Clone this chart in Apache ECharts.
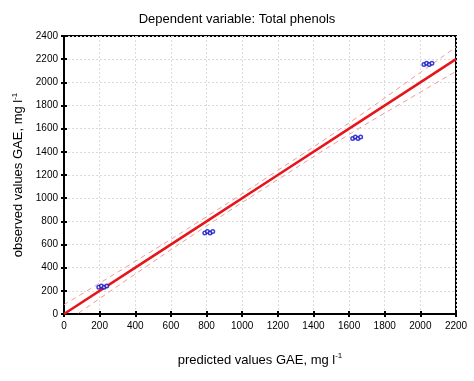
<!DOCTYPE html>
<html><head><meta charset="utf-8">
<script src="https://cdn.jsdelivr.net/npm/echarts@6/dist/echarts.min.js"></script>
<style>html,body{margin:0;padding:0;background:#fff}#c{width:474px;height:381px}</style>
</head><body><div id="c"></div>
<script>
const xTicks = [0,200,400,600,800,1000,1200,1400,1600,1800,2000,2200];
const yTicks = [0,200,400,600,800,1000,1200,1400,1600,1800,2000,2200,2400];
// observed vs predicted points (clusters of replicates)
const predicted = [195,210,225,240, 790,805,820,835, 1620,1635,1650,1665, 2020,2035,2050,2065];
const observed  = [230,242,230,242, 700,712,700,712, 1515,1527,1515,1527, 2153,2165,2153,2165];
// fitted line and 95% confidence bands
const fitX  = [0, 400, 800, 1200, 1600, 2000, 2200];
const fitY  = [0, 400, 800, 1200, 1600, 2000, 2200];
const upperY = [80, 455, 840, 1240, 1650, 2085, 2305];
const lowerY = [-80, 345, 760, 1160, 1550, 1915, 2095];

const pts = predicted.map((x,i)=>[x,observed[i]]);
const fit = fitX.map((x,i)=>[x,fitY[i]]);
const up = fitX.map((x,i)=>[x,upperY[i]]);
const lo = fitX.map((x,i)=>[x,lowerY[i]]);
const font = 'Liberation Sans, Arial, sans-serif';
const chart = echarts.init(document.getElementById('c'));
const axisCommon = {
  min:0, interval:200, axisLine:{show:true,lineStyle:{color:'#000',width:2}},
  axisTick:{show:true,inside:true,length:3,lineStyle:{color:'#000',width:2}},
  splitLine:{show:true,lineStyle:{color:'#dcdcdc',type:[2,2],width:1}}
};
const fmt = v => String(v);
chart.setOption({
  animation:false,
  title:{text:'Dependent variable: Total phenols',left:'center',top:8,
    textStyle:{fontFamily:font,fontSize:13,fontWeight:'normal',color:'#000'}},
  grid:{left:64,right:18,top:36,bottom:67,show:true,borderColor:'#000',borderWidth:2},
  xAxis:[Object.assign({},axisCommon,{type:'value',max:2200,position:'bottom',
    axisLabel:{fontFamily:font,fontSize:10,color:'#000',margin:7,formatter:fmt},
    name:'{a|predicted values GAE, mg l}{b|-1}',nameLocation:'middle',nameGap:38,
    nameTextStyle:{rich:{a:{fontFamily:font,fontSize:13,color:'#000'},b:{fontFamily:font,fontSize:8,color:'#000',padding:[0,0,8,0]}}}}),
    Object.assign({},axisCommon,{type:'value',max:2200,position:'top',axisLabel:{show:false},splitLine:{show:false}})],
  yAxis:[Object.assign({},axisCommon,{type:'value',max:2400,position:'left',
    axisLabel:{fontFamily:font,fontSize:10,color:'#000',margin:6,formatter:fmt},
    name:'{a|observed values GAE, mg l}{b|-1}',nameLocation:'middle',nameGap:37,
    nameTextStyle:{rich:{a:{fontFamily:font,fontSize:13,color:'#000'},b:{fontFamily:font,fontSize:8,color:'#000',padding:[0,0,8,0]}}}}),
    Object.assign({},axisCommon,{type:'value',max:2400,position:'right',axisLabel:{show:false},splitLine:{show:false}})],
  series:[
    {type:'line',data:up,symbol:'none',smooth:true,lineStyle:{color:'#f29a9a',width:1,type:[5,4]},z:3,clip:true},
    {type:'line',data:lo,symbol:'none',smooth:true,lineStyle:{color:'#f29a9a',width:1,type:[5,4]},z:3,clip:true},
    {type:'line',data:fit,symbol:'none',lineStyle:{color:'#e8141a',width:2.5},z:4,clip:true},
    {type:'scatter',data:pts,symbol:'circle',symbolSize:3.5,
      itemStyle:{color:'#fff',borderColor:'#1010c8',borderWidth:1.5},z:5}
  ]
});
</script></body></html>
